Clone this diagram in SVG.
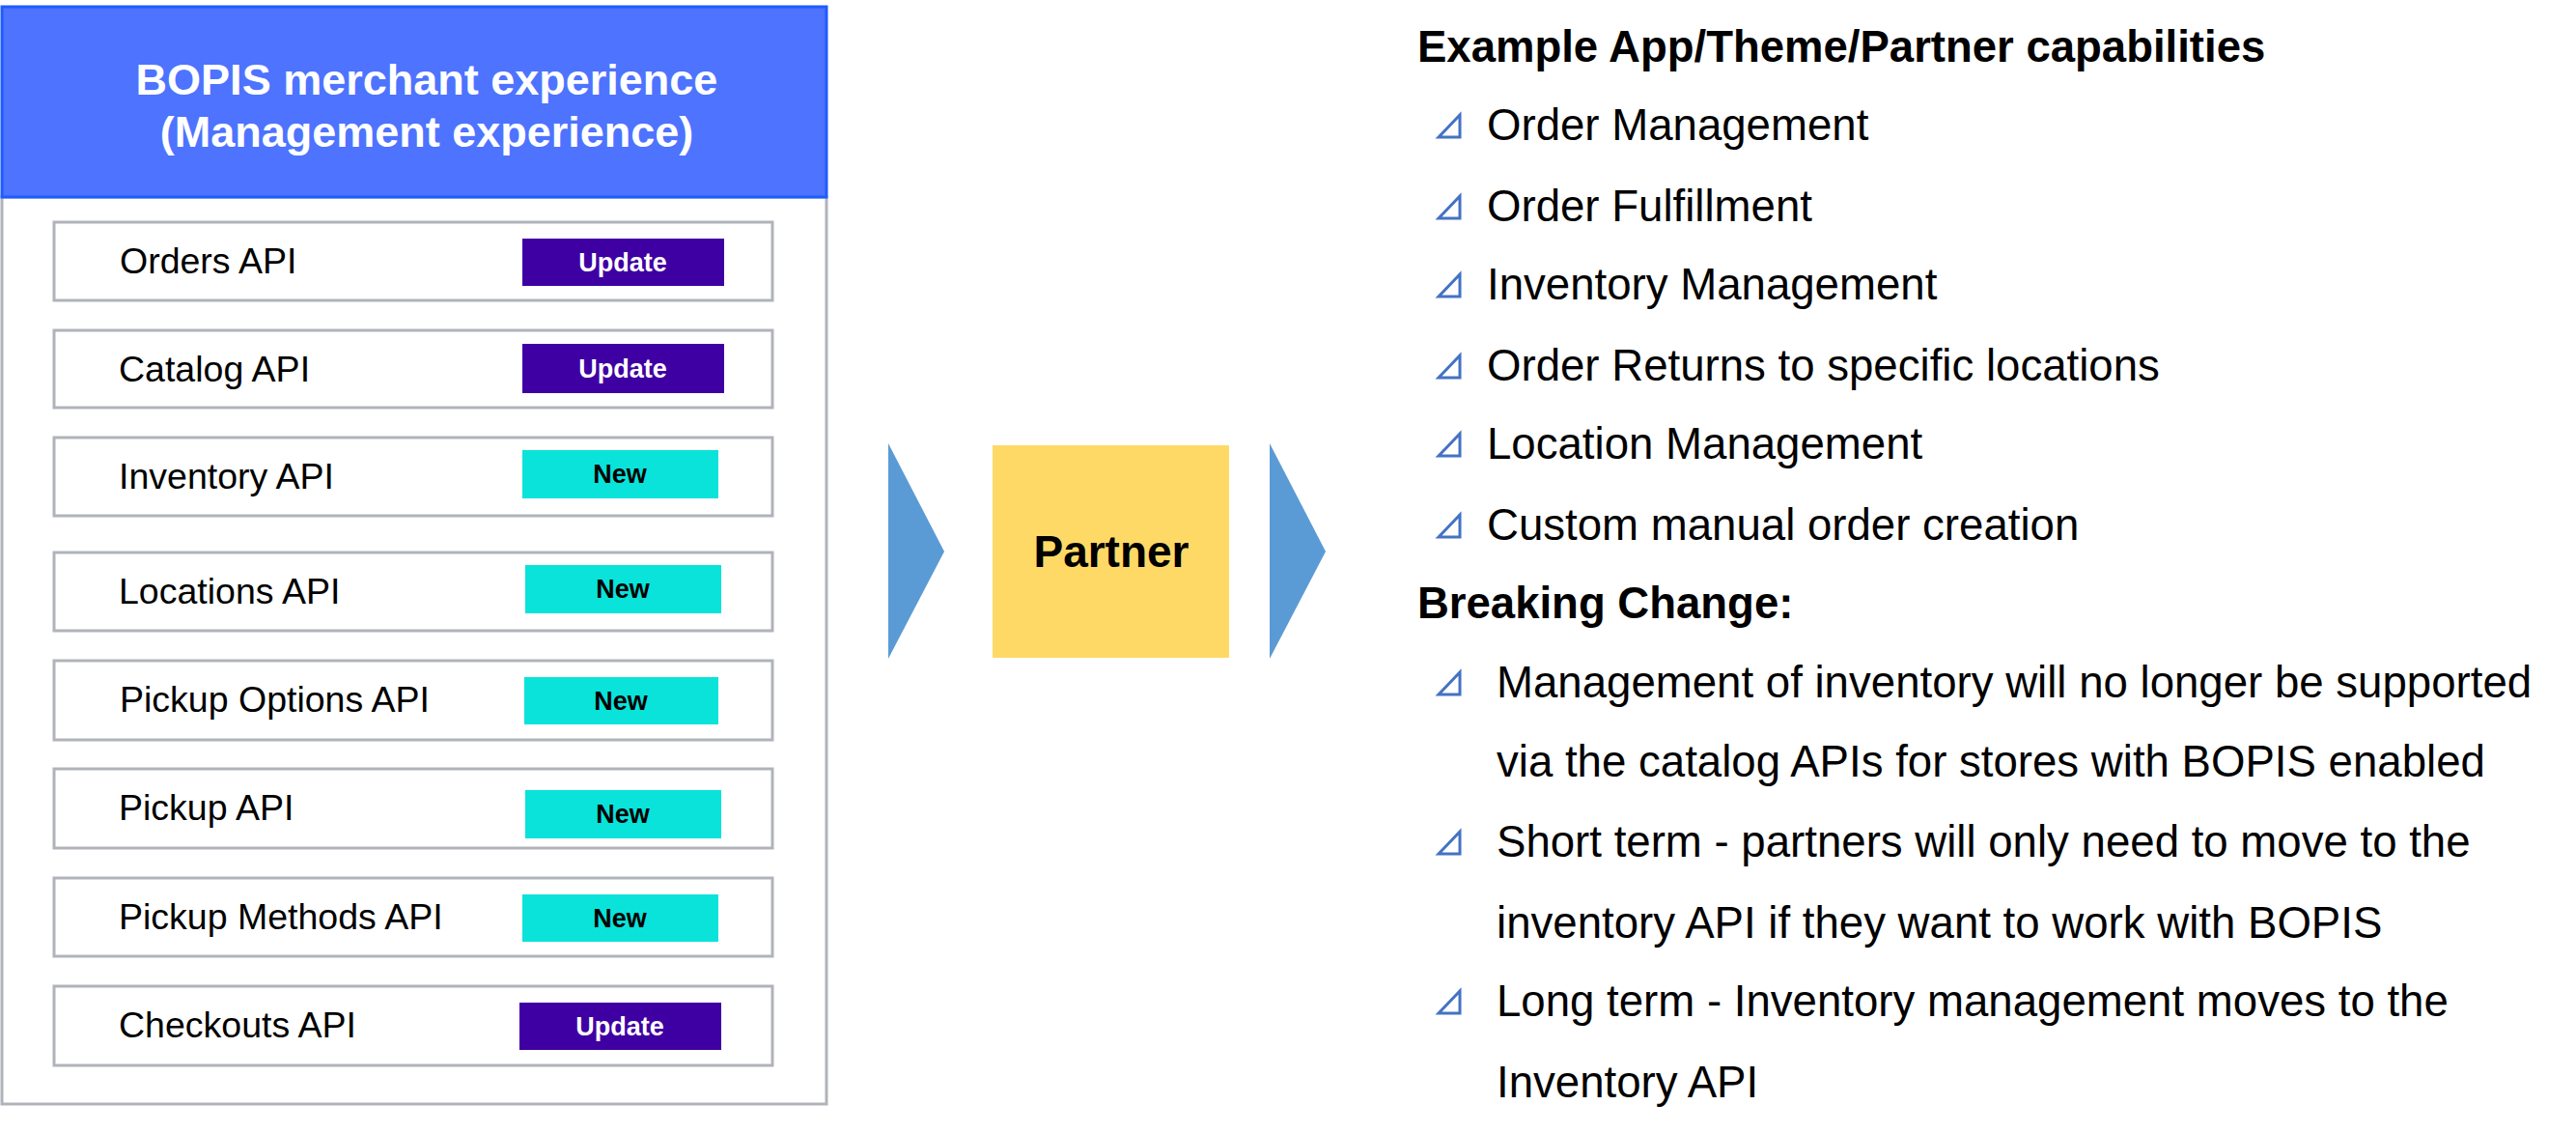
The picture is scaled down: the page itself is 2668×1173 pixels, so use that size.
<svg xmlns="http://www.w3.org/2000/svg" width="2668" height="1173" viewBox="0 0 2668 1173">
<style>
text{font-family:"Liberation Sans",Arial,sans-serif}
.row{fill:#fff;stroke:#B0B3BA;stroke-width:3}
.lbl{font-size:37.5px;fill:#000}
.upd{fill:#3F00A3}
.new{fill:#0AE3DA}
.bt{font-size:27px;font-weight:bold;text-anchor:middle}
.item{font-size:45.6px;fill:#000}
.hd{font-size:45.5px;font-weight:bold;fill:#000}
.tri{fill:none;stroke:#4472C4;stroke-width:3}
.chev{fill:#5B9BD5}
</style>
<defs>
<polygon id="b" class="tri" points="0,13 22,13 22,-10"/>
</defs>
<g id="panel">
<rect x="2" y="204" width="854" height="939" fill="#fff" stroke="#B0B3BA" stroke-width="3"/>
<rect x="2" y="7" width="854" height="197" fill="#4D73FF" stroke="#1F5CFF" stroke-width="3"/>
<text x="442" y="98" font-size="45" font-weight="bold" fill="#fff" text-anchor="middle">BOPIS merchant experience</text>
<text x="442" y="152" font-size="45" font-weight="bold" fill="#fff" text-anchor="middle">(Management experience)</text>
</g>
<g id="orders"><rect class="row" x="56" y="230" width="744" height="81"/><text class="lbl" x="124" y="283">Orders API</text><rect class="upd" x="541" y="247" width="209" height="49"/><text class="bt" x="645" y="281" fill="#fff">Update</text></g>
<g id="catalog"><rect class="row" x="56" y="342" width="744" height="80"/><text class="lbl" x="123" y="395">Catalog API</text><rect class="upd" x="541" y="356" width="209" height="51"/><text class="bt" x="645" y="391" fill="#fff">Update</text></g>
<g id="inventory"><rect class="row" x="56" y="453" width="744" height="81"/><text class="lbl" x="123" y="506">Inventory API</text><rect class="new" x="541" y="466" width="203" height="50"/><text class="bt" x="642" y="500" fill="#000">New</text></g>
<g id="locations"><rect class="row" x="56" y="572" width="744" height="81"/><text class="lbl" x="123" y="625">Locations API</text><rect class="new" x="544" y="585" width="203" height="50"/><text class="bt" x="645" y="619" fill="#000">New</text></g>
<g id="pickupoptions"><rect class="row" x="56" y="684" width="744" height="82"/><text class="lbl" x="124" y="737">Pickup Options API</text><rect class="new" x="543" y="701" width="201" height="49"/><text class="bt" x="643" y="735" fill="#000">New</text></g>
<g id="pickup"><rect class="row" x="56" y="796" width="744" height="82"/><text class="lbl" x="123" y="849">Pickup API</text><rect class="new" x="544" y="818" width="203" height="50"/><text class="bt" x="645" y="852" fill="#000">New</text></g>
<g id="pickupmethods"><rect class="row" x="56" y="909" width="744" height="81"/><text class="lbl" x="123" y="962">Pickup Methods API</text><rect class="new" x="541" y="926" width="203" height="49"/><text class="bt" x="642" y="960" fill="#000">New</text></g>
<g id="checkouts"><rect class="row" x="56" y="1021" width="744" height="82"/><text class="lbl" x="123" y="1074">Checkouts API</text><rect class="upd" x="538" y="1038" width="209" height="49"/><text class="bt" x="642" y="1072" fill="#fff">Update</text></g>
<g id="connectors">
<polygon class="chev" points="920,459 978,571 920,682"/>
<polygon class="chev" points="1315,459 1373,571 1315,682"/>
</g>
<g id="partner"><rect x="1028" y="461" width="245" height="220" fill="#FFD966"/><text x="1151" y="587" font-size="46" font-weight="bold" text-anchor="middle">Partner</text></g>
<g id="capabilities">
<text class="hd" x="1468" y="64">Example App/Theme/Partner capabilities</text>
<use href="#b" x="1490" y="129"/><text class="item" x="1540" y="145">Order Management</text>
<use href="#b" x="1490" y="213"/><text class="item" x="1540" y="229">Order Fulfillment</text>
<use href="#b" x="1490" y="294"/><text class="item" x="1540" y="310">Inventory Management</text>
<use href="#b" x="1490" y="378"/><text class="item" x="1540" y="394">Order Returns to specific locations</text>
<use href="#b" x="1490" y="459"/><text class="item" x="1540" y="475">Location Management</text>
<use href="#b" x="1490" y="543"/><text class="item" x="1540" y="559">Custom manual order creation</text>
<text class="hd" x="1468" y="640">Breaking Change:</text>
<use href="#b" x="1490" y="706"/><text class="item" x="1550" y="722">Management of inventory will no longer be supported</text>
<text class="item" x="1550" y="804">via the catalog APIs for stores with BOPIS enabled</text>
<use href="#b" x="1490" y="871"/><text class="item" x="1550" y="887">Short term - partners will only need to move to the</text>
<text class="item" x="1550" y="971">inventory API if they want to work with BOPIS</text>
<use href="#b" x="1490" y="1036"/><text class="item" x="1550" y="1052">Long term - Inventory management moves to the</text>
<text class="item" x="1550" y="1136">Inventory API</text>
</g>
</svg>
